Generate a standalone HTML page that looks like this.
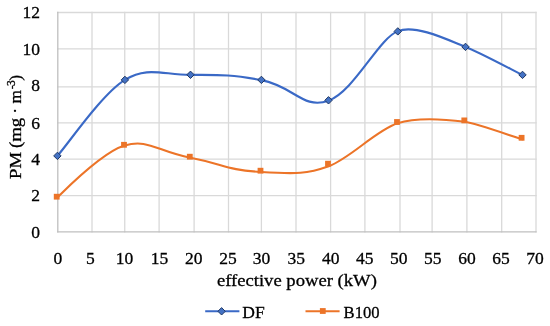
<!DOCTYPE html>
<html><head><meta charset="utf-8"><style>
html,body{margin:0;padding:0;background:#fff;}
body{width:550px;height:326px;overflow:hidden;}
svg{display:block;}
text{font-family:"Liberation Serif", serif;fill:#000;font-size:17.5px;stroke:#000;stroke-width:0.3px;}
</style></head><body>
<svg width="550" height="326" viewBox="0 0 550 326">
<rect width="550" height="326" fill="#fff"/>
<g stroke="#D9D9D9" stroke-width="1.3" fill="none">
<line x1="92.00" y1="11.85" x2="92.00" y2="232.45"/>
<line x1="124.75" y1="11.85" x2="124.75" y2="232.45"/>
<line x1="159.10" y1="11.85" x2="159.10" y2="232.45"/>
<line x1="194.10" y1="11.85" x2="194.10" y2="232.45"/>
<line x1="228.50" y1="11.85" x2="228.50" y2="232.45"/>
<line x1="261.40" y1="11.85" x2="261.40" y2="232.45"/>
<line x1="296.00" y1="11.85" x2="296.00" y2="232.45"/>
<line x1="330.60" y1="11.85" x2="330.60" y2="232.45"/>
<line x1="364.90" y1="11.85" x2="364.90" y2="232.45"/>
<line x1="400.00" y1="11.85" x2="400.00" y2="232.45"/>
<line x1="432.10" y1="11.85" x2="432.10" y2="232.45"/>
<line x1="466.90" y1="11.85" x2="466.90" y2="232.45"/>
<line x1="501.70" y1="11.85" x2="501.70" y2="232.45"/>
<line x1="536.00" y1="11.85" x2="536.00" y2="232.45"/>
<line x1="57.15" y1="195.70" x2="536.65" y2="195.70"/>
<line x1="57.15" y1="159.20" x2="536.65" y2="159.20"/>
<line x1="57.15" y1="122.90" x2="536.65" y2="122.90"/>
<line x1="57.15" y1="86.80" x2="536.65" y2="86.80"/>
<line x1="57.15" y1="48.80" x2="536.65" y2="48.80"/>
<line x1="57.15" y1="12.50" x2="536.65" y2="12.50"/>
</g>
<g stroke="#BFBFBF" stroke-width="1.3" fill="none">
<line x1="57.80" y1="11.85" x2="57.80" y2="232.45"/>
<line x1="57.15" y1="231.80" x2="536.65" y2="231.80"/>
</g>
<g>
<text x="39.9" y="237.90" text-anchor="end">0</text>
<text x="39.9" y="201.35" text-anchor="end">2</text>
<text x="39.9" y="165.40" text-anchor="end">4</text>
<text x="39.9" y="128.90" text-anchor="end">6</text>
<text x="39.9" y="91.00" text-anchor="end">8</text>
<text x="39.9" y="54.60" text-anchor="end">10</text>
<text x="39.9" y="18.20" text-anchor="end">12</text>
<text x="57.75" y="264.2" text-anchor="middle">0</text>
<text x="90.40" y="264.2" text-anchor="middle">5</text>
<text x="124.55" y="264.2" text-anchor="middle">10</text>
<text x="159.55" y="264.2" text-anchor="middle">15</text>
<text x="193.75" y="264.2" text-anchor="middle">20</text>
<text x="228.00" y="264.2" text-anchor="middle">25</text>
<text x="261.50" y="264.2" text-anchor="middle">30</text>
<text x="296.35" y="264.2" text-anchor="middle">35</text>
<text x="330.70" y="264.2" text-anchor="middle">40</text>
<text x="364.65" y="264.2" text-anchor="middle">45</text>
<text x="398.75" y="264.2" text-anchor="middle">50</text>
<text x="432.85" y="264.2" text-anchor="middle">55</text>
<text x="467.05" y="264.2" text-anchor="middle">60</text>
<text x="501.05" y="264.2" text-anchor="middle">65</text>
<text x="534.95" y="264.2" text-anchor="middle">70</text>
</g>
<text x="296.9" y="286.4" text-anchor="middle" textLength="160" lengthAdjust="spacingAndGlyphs">effective power (kW)</text>
<g transform="translate(20.7,180) rotate(-90)">
<text x="1.0" y="0" textLength="27.0" lengthAdjust="spacingAndGlyphs">PM</text>
<text x="31.9" y="0" textLength="30.3" lengthAdjust="spacingAndGlyphs">(mg</text>
<text x="69.1" y="0" text-anchor="middle">·</text>
<text x="76.5" y="0" textLength="13.4" lengthAdjust="spacingAndGlyphs">m</text>
<text x="90.8" y="-5.6" style="font-size:11.5px">-</text>
<text x="93.9" y="-5.6" style="font-size:11.5px">3</text>
<text x="99.3" y="0">)</text>
</g>
<path d="M57.40,155.90 C68.67,143.20 102.27,93.64 124.90,79.86 C147.53,66.08 162.65,74.81 190.50,74.87 C218.35,74.93 229.25,74.13 261.40,80.14 C293.55,86.15 302.99,109.84 328.50,100.68 C354.01,91.52 378.48,38.72 397.80,31.14 C417.12,23.56 453.90,42.87 465.50,46.95 C477.10,51.03 513.04,70.34 522.50,75.00" fill="none" stroke="#3A69C6" stroke-width="2.1" stroke-linejoin="round" stroke-linecap="round"/>
<path d="M57.50,197.20 C59.31,195.80 101.06,152.47 124.60,145.50 C148.14,138.53 156.76,151.25 190.50,157.80 C224.24,164.35 225.41,169.82 261.20,172.00 C296.99,174.18 307.42,173.80 328.70,166.20 C349.98,158.60 375.79,130.40 397.60,123.30 C419.41,116.20 454.90,120.50 465.00,121.80 C475.10,123.10 511.70,136.06 522.30,139.30" fill="none" stroke="#EC7428" stroke-width="2.1" stroke-linejoin="round" stroke-linecap="round"/>
<g fill="#4472C4" stroke="#203864" stroke-width="1.0">
<path d="M57.40,152.20L61.10,155.90L57.40,159.60L53.70,155.90Z"/>
<path d="M124.90,76.20L128.60,79.90L124.90,83.60L121.20,79.90Z"/>
<path d="M190.50,71.10L194.20,74.80L190.50,78.50L186.80,74.80Z"/>
<path d="M261.40,76.20L265.10,79.90L261.40,83.60L257.70,79.90Z"/>
<path d="M328.50,96.60L332.20,100.30L328.50,104.00L324.80,100.30Z"/>
<path d="M397.80,27.70L401.50,31.40L397.80,35.10L394.10,31.40Z"/>
<path d="M465.50,43.20L469.20,46.90L465.50,50.60L461.80,46.90Z"/>
<path d="M522.50,71.20L526.20,74.90L522.50,78.60L518.80,74.90Z"/>
</g>
<g fill="#EC7428" stroke="none">
<rect x="53.80" y="193.80" width="5.80" height="5.80"/>
<rect x="121.10" y="141.90" width="5.80" height="5.80"/>
<rect x="186.90" y="153.80" width="5.80" height="5.80"/>
<rect x="257.60" y="167.80" width="5.80" height="5.80"/>
<rect x="325.10" y="160.80" width="5.80" height="5.80"/>
<rect x="394.10" y="119.10" width="5.80" height="5.80"/>
<rect x="461.40" y="117.50" width="5.80" height="5.80"/>
<rect x="518.70" y="134.90" width="5.80" height="5.80"/>
</g>
<line x1="205.2" y1="311.3" x2="239.4" y2="311.3" stroke="#3A69C6" stroke-width="2.1"/>
<g fill="#4472C4" stroke="#203864" stroke-width="1.0"><path d="M221.60,307.60L225.30,311.30L221.60,315.00L217.90,311.30Z"/></g>
<text x="242.3" y="317.6">DF</text>
<line x1="305.5" y1="311.3" x2="339.6" y2="311.3" stroke="#EC7428" stroke-width="2.1"/>
<g fill="#EC7428"><rect x="319.90" y="308.10" width="5.80" height="5.80"/></g>
<text x="343.6" y="317.6" textLength="36" lengthAdjust="spacingAndGlyphs">B100</text>
</svg>
</body></html>
